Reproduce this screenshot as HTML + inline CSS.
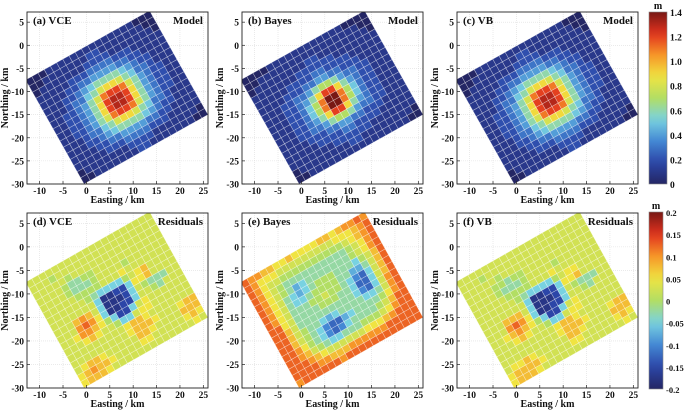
<!DOCTYPE html>
<html><head><meta charset="utf-8"><style>
body{margin:0;background:#fff;}
svg{display:block;font-family:"Liberation Serif",serif;font-weight:bold;}
</style></head><body>
<svg id="fig" width="685" height="410" viewBox="0 0 685 410" xmlns="http://www.w3.org/2000/svg"></svg>
<script>
// ---- data ----
const xTicks=[-10,-5,0,5,10,15,20,25];
const yTicks=[5,0,-5,-10,-15,-20,-25,-30];
const modelTicks=["0","0.2","0.4","0.6","0.8","1.0","1.2","1.4"];
const residTicks=["0.2","0.15","0.1","0.05","0","-0.05","-0.1","-0.15","-0.2"];
// model grids: hex digit = tenths of m (0..1.4)
const modelVCE=["00011111111111111000","00111111122111111100","01111111222211111110","11111222333322211111","11112233444433221111","11122345666654322111","11123356899865332111","11223468bccb86432211","11223469cddc96432211","11223469cddc96432211","11223468bccb86432211","11123356899865332111","11122345666654322111","11112233444433221111","11111222333322211111","01111111222211111110","00111111122111111100"];
const modelBayes=["00001111111111110000","00111111111111111100","01111111122111111110","11111112222221111111","11111222233222211111","11112223344332221111","11122334677643322111","111223469cc964322111","11122357beeb75322111","11122357beeb75322111","111223469cc964322111","11122334677643322111","11112223344332221111","11111222233222211111","11111112222221111111","01111111122111111110","00111111111111111100"];
const modelVB=["00011111111111111000","00111111122111111100","01111111222211111110","11111222333322211111","11112233444433221111","11122345666654322111","11123356899865332111","11223468bccb86432211","11223469cddc96432211","11223469cddc96432211","11223468bccb86432211","11123356899865332111","11122345666654322111","11112233444433221111","11111222333322211111","01111111222211111110","00111111122111111100"];
// residual grids: hex digit k => -0.2 + 0.025*k
const residVCE=["99999999999999999999","99989999999999999999","99999899999999999999","99998778899999999999","99998777899998999999","999998888999a9999999","99999987666689ab9999","9999999611226aab9999","999bcb96111269877799","999cdca6112269987999","99accba862269a999999","999aba998669aa999999","999999999abba9999999","999999999abbba999abb","9abba99999bba9999bbb","abcbba9999aa99999aba","abbba9999999999999a9"];
const residBayes=["dccbbaabaaaabbabccdc","dcaaa999999999aaabcd","dca9988888888889abcd","dca98777777777789acd","dca98756777777789acd","dca976567888777689bd","dca976678888775579bd","dca977788988764369bd","dda977778887763369bd","ddb977777777764369cd","ddb987765677776679cd","ddb98764335677778acd","ddca8764346777789bdd","ddcb987667778889acdd","dddcba999999aaabcddd","ddddccbbbccccccddddd","cddddddcdddddddddddd"];
const residVB=["99999999999999999999","99989999999999999999","99999899999999999999","99998878899999999999","99998777899998999999","999998888999a9999999","99999987666689aa9999","9999999611226aab9999","999bbb96111269877799","999cdca6112269987999","99abcba862269a999999","999aba998669aa999999","999999999abba9999999","999999999abbba999abb","9aaba99999bba9999bbb","abbbba9999aa99999aba","abbba9999999999999a9"];
// ---- geometry ----
const S="http://www.w3.org/2000/svg";
const svg=document.getElementById('fig');
function el(t,a,p){const e=document.createElementNS(S,t);for(const k in a)e.setAttribute(k,a[k]);(p||svg).appendChild(e);return e;}
const stops=[[0,[36,38,100]],[0.125,[44,70,168]],[0.25,[68,136,212]],[0.375,[120,210,225]],[0.5,[178,222,100]],[0.625,[240,228,65]],[0.75,[246,150,40]],[0.875,[225,50,30]],[1,[120,24,20]]];
function cmap(t){t=Math.max(0,Math.min(1,t));for(let i=1;i<stops.length;i++){if(t<=stops[i][0]){const a=stops[i-1],b=stops[i];const f=(t-a[0])/(b[0]-a[0]);const c=a[1].map((v,k)=>Math.round(v+(b[1][k]-v)*f));return `rgb(${c[0]},${c[1]},${c[2]})`;}}return 'rgb(120,24,20)';}
const XMIN=-12.7,XMAX=26,YMIN=-30,YMAX=7.2;
const colsX=[27,242,457];
const rowsY=[[12,184],[213,388]];
const L=[-13,-7.5],U=[26.5,15],V=[12.5,-22.5];
const panels=[
 {r:0,c:0,g:modelVCE,t:"(a) VCE",k:"Model",m:0},
 {r:0,c:1,g:modelBayes,t:"(b) Bayes",k:"Model",m:0},
 {r:0,c:2,g:modelVB,t:"(c) VB",k:"Model",m:0},
 {r:1,c:0,g:residVCE,t:"(d) VCE",k:"Residuals",m:1},
 {r:1,c:1,g:residBayes,t:"(e) Bayes",k:"Residuals",m:1},
 {r:1,c:2,g:residVB,t:"(f) VB",k:"Residuals",m:1}];
panels.forEach((p,pi)=>{
 const x0=colsX[p.c],x1=x0+181,y0=rowsY[p.r][0],y1=rowsY[p.r][1];
 const sx=v=>x0+(v-XMIN)/(XMAX-XMIN)*(x1-x0);
 const sy=v=>y1-(v-YMIN)/(YMAX-YMIN)*(y1-y0);
 const g=el('g',{});
 
 
 const cid='clip'+pi;
 const cp=el('clipPath',{id:cid},g);el('rect',{x:x0,y:y0,width:x1-x0,height:y1-y0},cp);
 xTicks.forEach(t=>{const l=el('line',{x1:sx(t),x2:sx(t),y1:y0,y2:y1,stroke:'#ddd','stroke-width':0.6,'stroke-dasharray':'1,1'},g);});
 yTicks.forEach(t=>{const l=el('line',{x1:x0,x2:x1,y1:sy(t),y2:sy(t),stroke:'#ddd','stroke-width':0.6,'stroke-dasharray':'1,1'},g);});
 const cells=el('g',{'clip-path':`url(#${cid})`},g);
 
 
 const nj=p.g.length,ni=p.g[0].length;
 for(let j=0;j<nj;j++)for(let i=0;i<ni;i++){
  const d=parseInt(p.g[j][i],16);
  const val=p.m?(-0.2+0.025*d):d/10;
  const t=p.m?(val+0.2)/0.4:val/1.4;
  const pt=(a,b)=>{const X=L[0]+a/ni*U[0]+b/nj*V[0],Y=L[1]+a/ni*U[1]+b/nj*V[1];return sx(X).toFixed(2)+','+sy(Y).toFixed(2);};
  const poly=el('polygon',{points:[pt(i,j),pt(i+1,j),pt(i+1,j+1),pt(i,j+1)].join(' '),fill:cmap(t),stroke:'#ffffff','stroke-opacity':0.45,'stroke-width':0.6},cells);
  
  
 }
 el('rect',{x:x0,y:y0,width:x1-x0,height:y1-y0,fill:'none',stroke:'#222','stroke-width':0.9},g);
 xTicks.forEach(t=>{el('line',{x1:sx(t),x2:sx(t),y1:y1,y2:y1-3,stroke:'#222','stroke-width':0.7},g);
  const tx=el('text',{x:sx(t),y:y1+10,'font-size':9.5,'text-anchor':'middle',fill:'#111'},g);tx.textContent=t;
  });
 yTicks.forEach(t=>{el('line',{x1:x0,x2:x0+3,y1:sy(t),y2:sy(t),stroke:'#222','stroke-width':0.7},g);
  const tx=el('text',{x:x0-3,y:sy(t)+3.5,'font-size':9.5,'text-anchor':'end',fill:'#111'},g);tx.textContent=t;
  });
 const xl=el('text',{x:(x0+x1)/2,y:y1+19,'font-size':10,'text-anchor':'middle',fill:'#111'},g);xl.textContent='Easting / km';
 
 const cy=(y0+y1)/2,cx=x0-19;
 const yl=el('text',{x:cx,y:cy,'font-size':10,'text-anchor':'middle',fill:'#111',transform:`rotate(-90 ${cx} ${cy})`},g);yl.textContent='Northing / km';
 
 const tt=el('text',{x:x0+6,y:y0+12,'font-size':11,fill:'#111'},g);tt.textContent=p.t;
 
 const kt=el('text',{x:x1-5,y:y0+12,'font-size':11,'text-anchor':'end',fill:'#111'},g);kt.textContent=p.k;
 
});
function colorbar(x,y0,y1,w,labels,id,fs){
 const g=el('g',{});
 
 
 const gr=el('linearGradient',{id:id+'-grad',x1:0,y1:1,x2:0,y2:0},g);
 for(let i=0;i<=20;i++){el('stop',{offset:i/20,'stop-color':cmap(i/20)},gr);}
 el('rect',{x:x,y:y0,width:w,height:y1-y0,fill:`url(#${id}-grad)`,stroke:'#888','stroke-width':0.6},g);
 const n=labels.length;
 labels.forEach((lb,i)=>{const yy=y0+(y1-y0)*i/(n-1);
  const t=el('text',{x:x+w+3,y:yy+4,'font-size':fs,fill:'#111'},g);t.textContent=lb;
  });
 const m=el('text',{x:x+w/2,y:y0-3,'font-size':10,'text-anchor':'middle',fill:'#111'},g);m.textContent='m';
 
}
colorbar(649,12,184,18,modelTicks.slice().reverse(),'model-colorbar',9.5);
colorbar(649,212,389,14,residTicks,'residual-colorbar',8.5);
</script>
</body></html>
